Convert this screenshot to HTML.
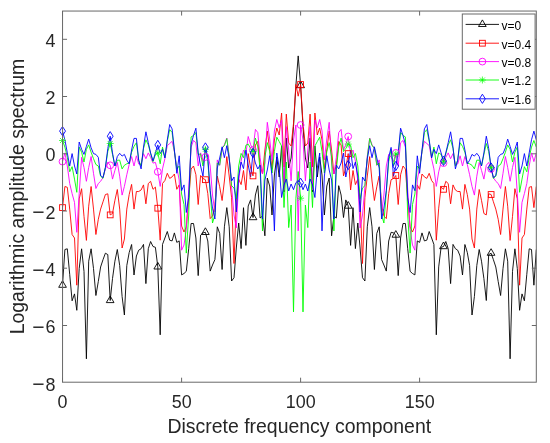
<!DOCTYPE html>
<html lang="en"><head><meta charset="utf-8"><title>Logarithmic amplitude spectrum</title>
<style>html,body{margin:0;padding:0;background:#fff;}body{width:550px;height:443px;overflow:hidden;}</style>
</head><body>
<svg width="550" height="443" viewBox="0 0 550 443" style="display:block">
<rect width="550" height="443" fill="#ffffff"/>
<defs><clipPath id="cp"><rect x="62.55" y="11.05" width="473.74999999999994" height="371.15"/></clipPath></defs>
<g clip-path="url(#cp)" fill="none" stroke-linejoin="round" stroke-width="0.9">
<polyline points="62.5,285.2 64.9,249.5 67.3,248.8 69.7,274.3 72.1,300.8 74.5,293.9 76.8,310.3 79.2,268.5 81.6,248.8 84.0,271.4 86.4,358.8 88.7,261.2 91.1,248.8 93.5,268.5 95.9,295.5 98.3,281.5 100.6,267.0 103.0,259.7 105.4,253.2 107.8,254.6 110.2,300.5 112.5,278.6 114.9,261.2 117.3,249.5 119.7,265.5 122.1,296.5 124.4,315.0 126.8,265.5 129.2,252.5 131.6,244.5 134.0,275.0 136.4,256.0 138.7,250.2 141.1,248.7 143.5,244.4 145.9,283.6 148.3,248.7 150.6,241.5 153.0,246.5 155.4,247.3 157.8,266.9 160.2,334.8 162.5,244.4 164.9,238.0 167.3,231.5 169.7,240.2 172.1,240.9 174.4,232.9 176.8,242.4 179.2,240.9 181.6,274.9 184.0,273.5 186.3,271.3 188.7,248.7 191.1,223.5 193.5,223.5 195.9,238.0 198.2,275.6 200.6,235.1 203.0,232.9 205.4,232.3 207.8,241.0 210.2,271.1 212.5,265.0 214.9,259.6 217.3,226.8 219.7,233.4 222.1,269.5 224.4,226.8 226.8,207.6 229.2,226.8 231.6,281.0 234.0,277.7 236.3,248.0 238.7,223.0 241.1,248.6 243.5,207.7 245.9,245.4 248.2,206.0 250.6,199.9 253.0,217.5 255.4,195.0 257.8,185.7 260.1,218.0 262.5,216.0 264.9,235.8 267.3,178.0 269.7,186.0 272.0,215.0 274.4,175.0 276.8,157.0 279.2,177.0 281.6,146.0 284.0,192.0 286.3,138.0 288.7,168.0 291.1,158.0 293.5,126.6 295.9,85.5 298.2,55.9 300.6,85.5 303.0,126.6 305.4,158.0 307.8,168.0 310.1,138.0 312.5,192.0 314.9,146.0 317.3,177.0 319.7,157.0 322.0,175.0 324.4,215.0 326.8,186.0 329.2,178.0 331.6,235.8 333.9,216.0 336.3,218.0 338.7,185.7 341.1,195.0 343.5,217.5 345.8,199.9 348.2,206.0 350.6,245.4 353.0,207.7 355.4,248.6 357.8,223.0 360.1,248.0 362.5,277.7 364.9,281.0 367.3,226.8 369.7,207.6 372.0,226.8 374.4,269.5 376.8,233.4 379.2,226.8 381.6,259.6 383.9,265.0 386.3,271.1 388.7,241.0 391.1,232.3 393.5,232.9 395.8,235.1 398.2,275.6 400.6,238.0 403.0,223.5 405.4,223.5 407.7,248.7 410.1,271.3 412.5,273.5 414.9,274.9 417.3,240.9 419.6,242.4 422.0,232.9 424.4,240.9 426.8,240.2 429.2,231.5 431.6,238.0 433.9,244.4 436.3,334.8 438.7,266.9 441.1,247.3 443.5,246.5 445.8,241.5 448.2,248.7 450.6,283.6 453.0,244.4 455.4,248.7 457.7,250.2 460.1,256.0 462.5,275.0 464.9,244.5 467.3,252.5 469.6,265.5 472.0,315.0 474.4,296.5 476.8,265.5 479.2,249.5 481.5,261.2 483.9,278.6 486.3,300.5 488.7,254.6 491.1,253.2 493.4,259.7 495.8,267.0 498.2,281.5 500.6,295.5 503.0,268.5 505.4,248.8 507.7,261.2 510.1,358.8 512.5,271.4 514.9,248.8 517.3,268.5 519.6,310.3 522.0,293.9 524.4,300.8 526.8,274.3 529.2,248.8 531.5,249.5 533.9,285.2 536.3,249.5" stroke="#000000"/>
<polyline points="62.5,207.6 64.9,186.5 67.3,187.3 69.7,209.1 72.1,234.5 74.5,238.0 76.8,285.2 79.2,198.9 81.6,188.7 84.0,216.4 86.4,240.4 88.7,206.2 91.1,186.5 93.5,209.1 95.9,234.5 98.3,219.3 100.6,209.1 103.0,201.8 105.4,194.5 107.8,193.8 110.2,214.9 112.5,213.5 114.9,200.4 117.3,189.5 119.7,209.1 122.1,248.0 124.4,239.0 126.8,209.1 129.2,194.5 131.6,184.4 134.0,209.1 136.4,191.5 138.7,191.5 141.1,190.0 143.5,184.9 145.9,203.8 148.3,183.5 150.6,181.3 153.0,189.3 155.4,187.1 157.8,208.2 160.2,240.2 162.5,183.5 164.9,180.5 167.3,173.3 169.7,178.4 172.1,176.9 174.4,174.0 176.8,189.3 179.2,184.9 181.6,226.0 184.0,232.0 186.3,227.0 188.7,199.0 191.1,169.0 193.5,166.0 195.9,174.7 198.2,204.5 200.6,175.5 203.0,178.5 205.4,179.7 207.8,193.6 210.2,218.6 212.5,216.0 214.9,205.0 217.3,176.0 219.7,186.8 222.1,200.5 224.4,181.0 226.8,156.6 229.2,176.0 231.6,197.7 234.0,263.5 236.3,200.0 238.7,179.2 241.1,184.6 243.5,170.5 245.9,190.0 248.2,153.6 250.6,168.0 253.0,175.9 255.4,145.0 257.8,141.4 260.1,165.0 262.5,174.0 264.9,150.0 267.3,131.0 269.7,150.0 272.0,168.8 274.4,140.0 276.8,128.0 279.2,135.0 281.6,113.0 284.0,167.0 286.3,114.1 288.7,143.0 291.1,146.0 293.5,123.4 295.9,84.5 298.2,96.2 300.6,84.5 303.0,123.4 305.4,146.0 307.8,143.0 310.1,114.1 312.5,167.0 314.9,113.0 317.3,135.0 319.7,128.0 322.0,140.0 324.4,168.8 326.8,150.0 329.2,131.0 331.6,150.0 333.9,174.0 336.3,165.0 338.7,141.4 341.1,145.0 343.5,175.9 345.8,168.0 348.2,153.6 350.6,190.0 353.0,170.5 355.4,184.6 357.8,179.2 360.1,200.0 362.5,263.5 364.9,197.7 367.3,176.0 369.7,156.6 372.0,181.0 374.4,200.5 376.8,186.8 379.2,176.0 381.6,205.0 383.9,216.0 386.3,218.6 388.7,193.6 391.1,179.7 393.5,178.5 395.8,175.5 398.2,204.5 400.6,174.7 403.0,166.0 405.4,169.0 407.7,199.0 410.1,227.0 412.5,232.0 414.9,226.0 417.3,184.9 419.6,189.3 422.0,174.0 424.4,176.9 426.8,178.4 429.2,173.3 431.6,180.5 433.9,183.5 436.3,240.2 438.7,208.2 441.1,187.1 443.5,189.3 445.8,181.3 448.2,183.5 450.6,203.8 453.0,184.9 455.4,190.0 457.7,191.5 460.1,191.5 462.5,209.1 464.9,184.4 467.3,194.5 469.6,209.1 472.0,239.0 474.4,248.0 476.8,209.1 479.2,189.5 481.5,200.4 483.9,213.5 486.3,214.9 488.7,193.8 491.1,194.5 493.4,201.8 495.8,209.1 498.2,219.3 500.6,234.5 503.0,209.1 505.4,186.5 507.7,206.2 510.1,240.4 512.5,216.4 514.9,188.7 517.3,198.9 519.6,285.2 522.0,238.0 524.4,234.5 526.8,209.1 529.2,187.3 531.5,186.5 533.9,207.6 536.3,186.5" stroke="#ff0000"/>
<polyline points="62.5,161.6 64.9,152.9 67.3,166.0 69.7,183.5 72.1,193.6 74.5,202.4 76.8,232.3 79.2,193.6 81.6,157.3 84.0,167.5 86.4,181.3 88.7,167.5 91.1,156.5 93.5,173.3 95.9,188.5 98.3,183.5 100.6,181.3 103.0,177.6 105.4,168.9 107.8,162.4 110.2,165.3 112.5,179.1 114.9,170.4 117.3,162.4 119.7,176.2 122.1,195.1 124.4,186.4 126.8,174.7 129.2,164.5 131.6,156.5 134.0,166.0 136.4,155.8 138.7,164.0 141.1,164.5 143.5,153.6 145.9,158.7 148.3,152.9 150.6,157.3 153.0,163.1 155.4,162.4 157.8,171.8 160.2,186.4 162.5,168.9 164.9,158.7 167.3,145.6 169.7,143.5 172.1,141.3 174.4,151.5 176.8,167.5 179.2,180.0 181.6,250.2 184.0,245.0 186.3,229.0 188.7,190.0 191.1,147.1 193.5,140.5 195.9,142.7 198.2,166.0 200.6,152.9 203.0,161.6 205.4,157.0 207.8,154.4 210.2,166.0 212.5,195.0 214.9,212.0 217.3,159.9 219.7,165.4 222.1,148.5 224.4,144.6 226.8,138.0 229.2,156.0 231.6,187.0 234.0,215.0 236.3,227.9 238.7,181.0 241.1,161.0 243.5,150.1 245.9,153.4 248.2,136.5 250.6,144.6 253.0,150.0 255.4,129.4 257.8,132.6 260.1,157.7 262.5,174.0 264.9,163.0 267.3,122.3 269.7,139.0 272.0,160.0 274.4,131.0 276.8,119.5 279.2,127.7 281.6,120.0 284.0,190.0 286.3,126.6 288.7,150.0 291.1,180.8 293.5,140.0 295.9,125.0 298.2,230.9 300.6,125.0 303.0,140.0 305.4,180.8 307.8,150.0 310.1,126.6 312.5,190.0 314.9,120.0 317.3,127.7 319.7,119.5 322.0,131.0 324.4,160.0 326.8,139.0 329.2,122.3 331.6,163.0 333.9,174.0 336.3,157.7 338.7,132.6 341.1,129.4 343.5,150.0 345.8,144.6 348.2,136.5 350.6,153.4 353.0,150.1 355.4,161.0 357.8,181.0 360.1,227.9 362.5,215.0 364.9,187.0 367.3,156.0 369.7,138.0 372.0,144.6 374.4,148.5 376.8,165.4 379.2,159.9 381.6,212.0 383.9,195.0 386.3,166.0 388.7,154.4 391.1,157.0 393.5,161.6 395.8,152.9 398.2,166.0 400.6,142.7 403.0,140.5 405.4,147.1 407.7,190.0 410.1,229.0 412.5,245.0 414.9,250.2 417.3,180.0 419.6,167.5 422.0,151.5 424.4,141.3 426.8,143.5 429.2,145.6 431.6,158.7 433.9,168.9 436.3,186.4 438.7,171.8 441.1,162.4 443.5,163.1 445.8,157.3 448.2,152.9 450.6,158.7 453.0,153.6 455.4,164.5 457.7,164.0 460.1,155.8 462.5,166.0 464.9,156.5 467.3,164.5 469.6,174.7 472.0,186.4 474.4,195.1 476.8,176.2 479.2,162.4 481.5,170.4 483.9,179.1 486.3,165.3 488.7,162.4 491.1,168.9 493.4,177.6 495.8,181.3 498.2,183.5 500.6,188.5 503.0,173.3 505.4,156.5 507.7,167.5 510.1,181.3 512.5,167.5 514.9,157.3 517.3,193.6 519.6,232.3 522.0,202.4 524.4,193.6 526.8,183.5 529.2,166.0 531.5,152.9 533.9,161.6 536.3,152.9" stroke="#ff00ff"/>
<polyline points="62.5,140.5 64.9,147.1 67.3,157.3 69.7,171.8 72.1,166.7 74.5,179.1 76.8,192.3 79.2,147.1 81.6,152.2 84.0,162.0 86.4,149.3 88.7,144.9 91.1,152.2 93.5,158.7 95.9,164.5 98.3,166.0 100.6,176.2 103.0,178.4 105.4,167.5 107.8,151.5 110.2,143.5 112.5,154.4 114.9,166.0 117.3,160.2 119.7,160.2 122.1,168.9 124.4,165.3 126.8,163.8 129.2,163.1 131.6,152.2 134.0,146.4 136.4,142.7 138.7,160.2 141.1,166.0 143.5,148.5 145.9,139.8 148.3,144.9 150.6,153.6 153.0,161.6 155.4,154.4 157.8,152.9 160.2,163.8 162.5,147.1 164.9,157.3 167.3,141.3 169.7,129.6 172.1,132.5 174.4,151.5 176.8,168.9 179.2,166.0 181.6,194.0 184.0,204.5 186.3,253.1 188.7,215.0 191.1,136.9 193.5,135.5 195.9,132.5 198.2,154.4 200.6,154.0 203.0,166.0 205.4,149.3 207.8,161.6 210.2,192.0 212.5,223.0 214.9,215.0 217.3,163.0 219.7,165.0 222.1,147.9 224.4,145.7 226.8,138.6 229.2,157.7 231.6,185.7 234.0,188.0 236.3,198.8 238.7,166.0 241.1,153.4 243.5,157.7 245.9,145.2 248.2,144.1 250.6,148.5 253.0,151.5 255.4,138.1 257.8,146.8 260.1,170.0 262.5,231.0 264.9,157.0 267.3,142.6 269.7,151.4 272.0,173.0 274.4,151.4 276.8,137.2 279.2,141.5 281.6,146.0 284.0,207.5 286.3,162.0 288.7,227.6 291.1,205.0 293.5,311.9 295.9,198.2 298.2,171.5 300.6,198.2 303.0,311.9 305.4,205.0 307.8,227.6 310.1,162.0 312.5,207.5 314.9,146.0 317.3,141.5 319.7,137.2 322.0,151.4 324.4,173.0 326.8,151.4 329.2,142.6 331.6,157.0 333.9,231.0 336.3,170.0 338.7,146.8 341.1,138.1 343.5,151.5 345.8,148.5 348.2,144.1 350.6,145.2 353.0,157.7 355.4,153.4 357.8,166.0 360.1,198.8 362.5,188.0 364.9,185.7 367.3,157.7 369.7,138.6 372.0,145.7 374.4,147.9 376.8,165.0 379.2,163.0 381.6,215.0 383.9,223.0 386.3,192.0 388.7,161.6 391.1,149.3 393.5,166.0 395.8,154.0 398.2,154.4 400.6,132.5 403.0,135.5 405.4,136.9 407.7,215.0 410.1,253.1 412.5,204.5 414.9,194.0 417.3,166.0 419.6,168.9 422.0,151.5 424.4,132.5 426.8,129.6 429.2,141.3 431.6,157.3 433.9,147.1 436.3,163.8 438.7,152.9 441.1,154.4 443.5,161.6 445.8,153.6 448.2,144.9 450.6,139.8 453.0,148.5 455.4,166.0 457.7,160.2 460.1,142.7 462.5,146.4 464.9,152.2 467.3,163.1 469.6,163.8 472.0,165.3 474.4,168.9 476.8,160.2 479.2,160.2 481.5,166.0 483.9,154.4 486.3,143.5 488.7,151.5 491.1,167.5 493.4,178.4 495.8,176.2 498.2,166.0 500.6,164.5 503.0,158.7 505.4,152.2 507.7,144.9 510.1,149.3 512.5,162.0 514.9,152.2 517.3,147.1 519.6,192.3 522.0,179.1 524.4,166.7 526.8,171.8 529.2,157.3 531.5,147.1 533.9,140.5 536.3,147.1" stroke="#00ff00"/>
<polyline points="62.5,131.1 64.9,139.8 67.3,152.9 69.7,166.0 72.1,153.6 74.5,166.0 76.8,174.0 79.2,142.0 81.6,149.3 84.0,154.4 86.4,146.4 88.7,139.1 91.1,147.8 93.5,153.6 95.9,154.4 98.3,157.3 100.6,175.5 103.0,177.6 105.4,167.5 107.8,148.5 110.2,136.2 112.5,152.9 114.9,166.0 117.3,156.5 119.7,153.3 122.1,156.1 124.4,154.4 126.8,160.2 129.2,163.8 131.6,150.0 134.0,138.4 136.4,138.4 138.7,160.2 141.1,168.9 143.5,147.1 145.9,131.8 148.3,142.7 150.6,152.9 153.0,160.9 155.4,152.9 157.8,144.9 160.2,153.6 162.5,149.3 164.9,158.0 167.3,139.8 169.7,124.5 172.1,128.9 174.4,150.0 176.8,173.3 179.2,155.8 181.6,190.7 184.0,184.9 186.3,212.5 188.7,197.3 191.1,144.2 193.5,135.5 195.9,128.2 198.2,152.9 200.6,166.0 203.0,176.2 205.4,147.4 207.8,157.3 210.2,190.7 212.5,208.2 214.9,219.0 217.3,168.0 219.7,158.0 222.1,146.8 224.4,157.7 226.8,145.7 229.2,158.8 231.6,181.0 234.0,177.0 236.3,212.0 238.7,176.0 241.1,162.0 243.5,168.6 245.9,150.1 248.2,165.0 250.6,177.0 253.0,153.0 255.4,163.0 257.8,169.0 260.1,165.0 262.5,219.0 264.9,180.0 267.3,170.0 269.7,155.7 272.0,176.0 274.4,230.9 276.8,153.0 279.2,168.0 281.6,197.5 284.0,185.0 286.3,179.0 288.7,191.0 291.1,184.0 293.5,189.7 295.9,182.7 298.2,180.5 300.6,182.7 303.0,189.7 305.4,184.0 307.8,191.0 310.1,179.0 312.5,185.0 314.9,197.5 317.3,168.0 319.7,153.0 322.0,230.9 324.4,176.0 326.8,155.7 329.2,170.0 331.6,180.0 333.9,219.0 336.3,165.0 338.7,169.0 341.1,163.0 343.5,153.0 345.8,177.0 348.2,165.0 350.6,150.1 353.0,168.6 355.4,162.0 357.8,176.0 360.1,212.0 362.5,177.0 364.9,181.0 367.3,158.8 369.7,145.7 372.0,157.7 374.4,146.8 376.8,158.0 379.2,168.0 381.6,219.0 383.9,208.2 386.3,190.7 388.7,157.3 391.1,147.4 393.5,176.2 395.8,166.0 398.2,152.9 400.6,128.2 403.0,135.5 405.4,144.2 407.7,197.3 410.1,212.5 412.5,184.9 414.9,190.7 417.3,155.8 419.6,173.3 422.0,150.0 424.4,128.9 426.8,124.5 429.2,139.8 431.6,158.0 433.9,149.3 436.3,153.6 438.7,144.9 441.1,152.9 443.5,160.9 445.8,152.9 448.2,142.7 450.6,131.8 453.0,147.1 455.4,168.9 457.7,160.2 460.1,138.4 462.5,138.4 464.9,150.0 467.3,163.8 469.6,160.2 472.0,154.4 474.4,156.1 476.8,153.3 479.2,156.5 481.5,166.0 483.9,152.9 486.3,136.2 488.7,148.5 491.1,167.5 493.4,177.6 495.8,175.5 498.2,157.3 500.6,154.4 503.0,153.6 505.4,147.8 507.7,139.1 510.1,146.4 512.5,154.4 514.9,149.3 517.3,142.0 519.6,174.0 522.0,166.0 524.4,153.6 526.8,166.0 529.2,152.9 531.5,139.8 533.9,131.1 536.3,139.8" stroke="#0000ff"/>
</g>
<path d="M62.5 280.7 L66.4 287.3 L58.7 287.3 Z" fill="none" stroke="#000000" stroke-width="0.9"/>
<path d="M110.2 296.0 L114.0 302.6 L106.3 302.6 Z" fill="none" stroke="#000000" stroke-width="0.9"/>
<path d="M157.8 262.4 L161.6 269.0 L153.9 269.0 Z" fill="none" stroke="#000000" stroke-width="0.9"/>
<path d="M205.4 227.8 L209.2 234.5 L201.5 234.5 Z" fill="none" stroke="#000000" stroke-width="0.9"/>
<path d="M253.0 213.0 L256.9 219.7 L249.2 219.7 Z" fill="none" stroke="#000000" stroke-width="0.9"/>
<path d="M300.6 81.0 L304.5 87.7 L296.8 87.7 Z" fill="none" stroke="#000000" stroke-width="0.9"/>
<path d="M348.2 201.5 L352.1 208.2 L344.4 208.2 Z" fill="none" stroke="#000000" stroke-width="0.9"/>
<path d="M395.8 230.6 L399.7 237.2 L392.0 237.2 Z" fill="none" stroke="#000000" stroke-width="0.9"/>
<path d="M443.5 242.0 L447.3 248.7 L439.6 248.7 Z" fill="none" stroke="#000000" stroke-width="0.9"/>
<path d="M491.1 248.7 L494.9 255.3 L487.2 255.3 Z" fill="none" stroke="#000000" stroke-width="0.9"/>
<rect x="59.6" y="204.7" width="5.8" height="5.8" fill="none" stroke="#ff0000" stroke-width="0.9"/>
<rect x="107.3" y="212.0" width="5.8" height="5.8" fill="none" stroke="#ff0000" stroke-width="0.9"/>
<rect x="154.9" y="205.3" width="5.8" height="5.8" fill="none" stroke="#ff0000" stroke-width="0.9"/>
<rect x="202.5" y="176.8" width="5.8" height="5.8" fill="none" stroke="#ff0000" stroke-width="0.9"/>
<rect x="250.1" y="173.0" width="5.8" height="5.8" fill="none" stroke="#ff0000" stroke-width="0.9"/>
<rect x="297.7" y="81.6" width="5.8" height="5.8" fill="none" stroke="#ff0000" stroke-width="0.9"/>
<rect x="345.3" y="150.7" width="5.8" height="5.8" fill="none" stroke="#ff0000" stroke-width="0.9"/>
<rect x="392.9" y="172.6" width="5.8" height="5.8" fill="none" stroke="#ff0000" stroke-width="0.9"/>
<rect x="440.6" y="186.4" width="5.8" height="5.8" fill="none" stroke="#ff0000" stroke-width="0.9"/>
<rect x="488.2" y="191.6" width="5.8" height="5.8" fill="none" stroke="#ff0000" stroke-width="0.9"/>
<circle cx="62.5" cy="161.6" r="3.4" fill="none" stroke="#ff00ff" stroke-width="0.9"/>
<circle cx="110.2" cy="165.3" r="3.4" fill="none" stroke="#ff00ff" stroke-width="0.9"/>
<circle cx="157.8" cy="171.8" r="3.4" fill="none" stroke="#ff00ff" stroke-width="0.9"/>
<circle cx="205.4" cy="157.0" r="3.4" fill="none" stroke="#ff00ff" stroke-width="0.9"/>
<circle cx="253.0" cy="150.0" r="3.4" fill="none" stroke="#ff00ff" stroke-width="0.9"/>
<circle cx="300.6" cy="125.0" r="3.4" fill="none" stroke="#ff00ff" stroke-width="0.9"/>
<circle cx="348.2" cy="136.5" r="3.4" fill="none" stroke="#ff00ff" stroke-width="0.9"/>
<circle cx="395.8" cy="152.9" r="3.4" fill="none" stroke="#ff00ff" stroke-width="0.9"/>
<circle cx="443.5" cy="163.1" r="3.4" fill="none" stroke="#ff00ff" stroke-width="0.9"/>
<circle cx="491.1" cy="168.9" r="3.4" fill="none" stroke="#ff00ff" stroke-width="0.9"/>
<path d="M59.0 140.5H66.0M62.5 137.0V144.0M60.0 138.0L65.0 143.0M60.0 143.0L65.0 138.0" fill="none" stroke="#00ff00" stroke-width="0.7"/>
<path d="M106.7 143.5H113.7M110.2 140.0V147.0M107.7 141.0L112.7 146.0M107.7 146.0L112.7 141.0" fill="none" stroke="#00ff00" stroke-width="0.7"/>
<path d="M154.3 152.9H161.3M157.8 149.4V156.4M155.3 150.4L160.3 155.4M155.3 155.4L160.3 150.4" fill="none" stroke="#00ff00" stroke-width="0.7"/>
<path d="M201.9 149.3H208.9M205.4 145.8V152.8M202.9 146.8L207.9 151.8M202.9 151.8L207.9 146.8" fill="none" stroke="#00ff00" stroke-width="0.7"/>
<path d="M249.5 151.5H256.5M253.0 148.0V155.0M250.5 149.0L255.5 154.0M250.5 154.0L255.5 149.0" fill="none" stroke="#00ff00" stroke-width="0.7"/>
<path d="M297.1 198.2H304.1M300.6 194.7V201.7M298.1 195.7L303.1 200.7M298.1 200.7L303.1 195.7" fill="none" stroke="#00ff00" stroke-width="0.7"/>
<path d="M344.7 144.1H351.7M348.2 140.6V147.6M345.7 141.6L350.7 146.6M345.7 146.6L350.7 141.6" fill="none" stroke="#00ff00" stroke-width="0.7"/>
<path d="M392.3 154.0H399.3M395.8 150.5V157.5M393.3 151.5L398.3 156.5M393.3 156.5L398.3 151.5" fill="none" stroke="#00ff00" stroke-width="0.7"/>
<path d="M440.0 161.6H447.0M443.5 158.1V165.1M441.0 159.1L446.0 164.1M441.0 164.1L446.0 159.1" fill="none" stroke="#00ff00" stroke-width="0.7"/>
<path d="M487.6 167.5H494.6M491.1 164.0V171.0M488.6 165.0L493.6 170.0M488.6 170.0L493.6 165.0" fill="none" stroke="#00ff00" stroke-width="0.7"/>
<path d="M62.5 126.5 L65.5 131.1 L62.5 135.7 L59.6 131.1 Z" fill="none" stroke="#0000ff" stroke-width="0.9"/>
<path d="M110.2 131.6 L113.1 136.2 L110.2 140.8 L107.3 136.2 Z" fill="none" stroke="#0000ff" stroke-width="0.9"/>
<path d="M157.8 140.3 L160.7 144.9 L157.8 149.5 L154.9 144.9 Z" fill="none" stroke="#0000ff" stroke-width="0.9"/>
<path d="M205.4 142.8 L208.3 147.4 L205.4 152.0 L202.5 147.4 Z" fill="none" stroke="#0000ff" stroke-width="0.9"/>
<path d="M253.0 148.4 L255.9 153.0 L253.0 157.6 L250.1 153.0 Z" fill="none" stroke="#0000ff" stroke-width="0.9"/>
<path d="M300.6 178.1 L303.5 182.7 L300.6 187.3 L297.7 182.7 Z" fill="none" stroke="#0000ff" stroke-width="0.9"/>
<path d="M348.2 160.4 L351.1 165.0 L348.2 169.6 L345.3 165.0 Z" fill="none" stroke="#0000ff" stroke-width="0.9"/>
<path d="M395.8 161.4 L398.7 166.0 L395.8 170.6 L392.9 166.0 Z" fill="none" stroke="#0000ff" stroke-width="0.9"/>
<path d="M443.5 156.3 L446.4 160.9 L443.5 165.5 L440.6 160.9 Z" fill="none" stroke="#0000ff" stroke-width="0.9"/>
<path d="M491.1 162.9 L494.0 167.5 L491.1 172.1 L488.2 167.5 Z" fill="none" stroke="#0000ff" stroke-width="0.9"/>
<rect x="62.55" y="11.05" width="473.74999999999994" height="371.15" fill="none" stroke="#686868" stroke-width="1"/>
<path d="M62.5 382.2v-4.5M62.5 11.05v4.5" stroke="#686868" stroke-width="1"/>
<path d="M181.6 382.2v-4.5M181.6 11.05v4.5" stroke="#686868" stroke-width="1"/>
<path d="M300.6 382.2v-4.5M300.6 11.05v4.5" stroke="#686868" stroke-width="1"/>
<path d="M419.6 382.2v-4.5M419.6 11.05v4.5" stroke="#686868" stroke-width="1"/>
<path d="M62.55 325.5h4.5M536.3 325.5h-4.5" stroke="#686868" stroke-width="1"/>
<path d="M62.55 268.2h4.5M536.3 268.2h-4.5" stroke="#686868" stroke-width="1"/>
<path d="M62.55 211.0h4.5M536.3 211.0h-4.5" stroke="#686868" stroke-width="1"/>
<path d="M62.55 153.8h4.5M536.3 153.8h-4.5" stroke="#686868" stroke-width="1"/>
<path d="M62.55 96.5h4.5M536.3 96.5h-4.5" stroke="#686868" stroke-width="1"/>
<path d="M62.55 39.3h4.5M536.3 39.3h-4.5" stroke="#686868" stroke-width="1"/>
<text x="62.6" y="407.7" text-anchor="middle" font-family="Liberation Sans, Arial, Helvetica, sans-serif" font-size="17.9" fill="#262626">0</text>
<text x="181.7" y="407.7" text-anchor="middle" font-family="Liberation Sans, Arial, Helvetica, sans-serif" font-size="17.9" fill="#262626">50</text>
<text x="300.7" y="407.7" text-anchor="middle" font-family="Liberation Sans, Arial, Helvetica, sans-serif" font-size="17.9" fill="#262626">100</text>
<text x="419.7" y="407.7" text-anchor="middle" font-family="Liberation Sans, Arial, Helvetica, sans-serif" font-size="17.9" fill="#262626">150</text>
<text x="55.4" y="390.5" text-anchor="end" font-family="Liberation Sans, Arial, Helvetica, sans-serif" font-size="17.9" fill="#262626">8</text>
<text transform="translate(44.5,391.2) scale(1.18,1.15)" text-anchor="end" font-family="Liberation Sans, Arial, Helvetica, sans-serif" font-size="17.9" fill="#262626">−</text>
<text x="55.4" y="333.2" text-anchor="end" font-family="Liberation Sans, Arial, Helvetica, sans-serif" font-size="17.9" fill="#262626">6</text>
<text transform="translate(44.5,333.9) scale(1.18,1.15)" text-anchor="end" font-family="Liberation Sans, Arial, Helvetica, sans-serif" font-size="17.9" fill="#262626">−</text>
<text x="55.4" y="275.9" text-anchor="end" font-family="Liberation Sans, Arial, Helvetica, sans-serif" font-size="17.9" fill="#262626">4</text>
<text transform="translate(44.5,276.6) scale(1.18,1.15)" text-anchor="end" font-family="Liberation Sans, Arial, Helvetica, sans-serif" font-size="17.9" fill="#262626">−</text>
<text x="55.4" y="218.6" text-anchor="end" font-family="Liberation Sans, Arial, Helvetica, sans-serif" font-size="17.9" fill="#262626">2</text>
<text transform="translate(44.5,219.3) scale(1.18,1.15)" text-anchor="end" font-family="Liberation Sans, Arial, Helvetica, sans-serif" font-size="17.9" fill="#262626">−</text>
<text x="55.4" y="161.4" text-anchor="end" font-family="Liberation Sans, Arial, Helvetica, sans-serif" font-size="17.9" fill="#262626">0</text>
<text x="55.4" y="104.1" text-anchor="end" font-family="Liberation Sans, Arial, Helvetica, sans-serif" font-size="17.9" fill="#262626">2</text>
<text x="55.4" y="46.8" text-anchor="end" font-family="Liberation Sans, Arial, Helvetica, sans-serif" font-size="17.9" fill="#262626">4</text>
<text x="299.3" y="432.5" text-anchor="middle" font-family="Liberation Sans, Arial, Helvetica, sans-serif" font-size="19.45" fill="#262626">Discrete frequency component</text>
<text transform="translate(23.6,196.6) rotate(-90)" text-anchor="middle" font-family="Liberation Sans, Arial, Helvetica, sans-serif" font-size="19.45" fill="#262626">Logarithmic amplitude spectrum</text>
<rect x="462.3" y="14.0" width="72.80000000000001" height="95.2" fill="#ffffff" stroke="#686868" stroke-width="1"/>
<path d="M465.6 24.4H499" stroke="#000000" stroke-width="0.9"/>
<path d="M482.4 19.9 L486.2 26.5 L478.5 26.5 Z" fill="none" stroke="#000000" stroke-width="0.9"/>
<text x="501.6" y="29.75" font-family="Liberation Sans, Arial, Helvetica, sans-serif" font-size="12" fill="#000000">v=0</text>
<path d="M465.6 43.2H499" stroke="#ff0000" stroke-width="0.9"/>
<rect x="479.5" y="40.3" width="5.8" height="5.8" fill="none" stroke="#ff0000" stroke-width="0.9"/>
<text x="501.6" y="48.55" font-family="Liberation Sans, Arial, Helvetica, sans-serif" font-size="12" fill="#000000">v=0.4</text>
<path d="M465.6 61.6H499" stroke="#ff00ff" stroke-width="0.9"/>
<circle cx="482.4" cy="61.6" r="3.4" fill="none" stroke="#ff00ff" stroke-width="0.9"/>
<text x="501.6" y="66.95" font-family="Liberation Sans, Arial, Helvetica, sans-serif" font-size="12" fill="#000000">v=0.8</text>
<path d="M465.6 80.0H499" stroke="#00ff00" stroke-width="0.9"/>
<path d="M478.9 80.0H485.9M482.4 76.5V83.5M479.9 77.5L484.9 82.5M479.9 82.5L484.9 77.5" fill="none" stroke="#00ff00" stroke-width="0.7"/>
<text x="501.6" y="85.35" font-family="Liberation Sans, Arial, Helvetica, sans-serif" font-size="12" fill="#000000">v=1.2</text>
<path d="M465.6 98.8H499" stroke="#0000ff" stroke-width="0.9"/>
<path d="M482.4 94.2 L485.3 98.8 L482.4 103.4 L479.5 98.8 Z" fill="none" stroke="#0000ff" stroke-width="0.9"/>
<text x="501.6" y="104.15" font-family="Liberation Sans, Arial, Helvetica, sans-serif" font-size="12" fill="#000000">v=1.6</text>
</svg>
</body></html>
